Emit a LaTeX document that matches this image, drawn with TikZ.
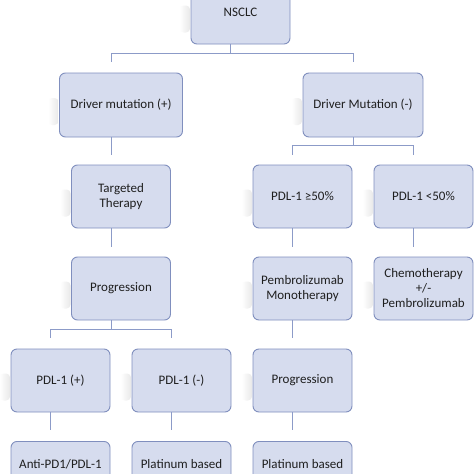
\documentclass[tikz,border=0pt]{standalone}
\usepackage{fontspec}
\setmainfont{Carlito}
\usetikzlibrary{positioning}

\begin{document}
\begin{tikzpicture}[x=1pt,y=-1pt,
  boite/.style={draw=bordBoite, fill=fondBoite, rounded corners=6pt,
    line width=0.9pt, minimum width=99pt, minimum height=63pt,
    align=center, text=black!88, inner sep=2pt,
    font=\fontsize{13}{15}\selectfont},
  large/.style={minimum width=123pt, minimum height=64pt},
  dernier/.style={anchor=north, inner ysep=0pt, text height=27pt, text depth=36pt},
  lien/.style={draw=couleurLien, line width=0.9pt}]

% Couleurs des boites et des liens
\definecolor{fondBoite}{RGB}{214,220,238}
\definecolor{bordBoite}{RGB}{128,143,190}
\definecolor{couleurLien}{RGB}{140,155,200}

% Cadre de l'image
\fill[white] (0,0) rectangle (474,474);
\useasboundingbox (0,0) rectangle (474,474);

% Boites
\node[boite] (nsclc) at (240.5,12.5) {NSCLC};
\node[boite,large] (drvpos) at (121,105) {Driver mutation (+)};
\node[boite,large,minimum width=120pt] (drvneg) at (363,105) {Driver Mutation (-)};

\node[boite] (target) at (121,196.5) {Targeted\\Therapy};
\node[boite] (pdlhaut) at (302.5,196.5) {PDL-1 ≥50\%};
\node[boite] (pdlbas) at (423.5,196.5) {PDL-1 <50\%};

\node[boite] (progA) at (121,288.5) {Progression};
\node[boite] (pembro) at (302.5,288.5) {Pembrolizumab\\Monotherapy};
\node[boite] (chimio) at (423.5,288.5) {Chemotherapy\\+/-\\Pembrolizumab};

\node[boite] (pdlplus) at (60.5,380.5) {PDL-1 (+)};
\node[boite] (pdlmoins) at (181.5,380.5) {PDL-1 (-)};
\node[boite] (progB) at (302.5,380.5) {Progression};

\node[boite,dernier] (antipd) at (60.5,441) {Anti-PD1/PDL-1};
\node[boite,dernier] (platA) at (181.5,441) {Platinum based};
\node[boite,dernier] (platB) at (302.5,441) {Platinum based};

% Ombres a gauche des boites
\foreach \n in {nsclc,drvpos,drvneg,target,pdlhaut,pdlbas,progA,pembro,chimio,pdlplus,pdlmoins,progB}
  \shade[left color=white, right color=black!9, rounded corners=4pt]
    ([xshift=-11pt,yshift=7pt]\n.west) rectangle ([xshift=-0.5pt,yshift=-20pt]\n.west);

% Liens
\draw[lien] ([xshift=-10pt]nsclc.south) -- ++(0,9) coordinate (fourcheA);
\draw[lien] (fourcheA) -| ([xshift=-10pt,yshift=11pt]drvpos.north);
\draw[lien] (fourcheA) -| ([xshift=-10pt,yshift=11pt]drvneg.north);

\draw[lien] ([xshift=-10pt]drvpos.south) -- ([xshift=-10pt,yshift=10pt]target.north);
\draw[lien] ([xshift=-10pt]drvneg.south) -- ++(0,8) coordinate (fourcheB);
\draw[lien] (fourcheB) -| ([xshift=-10pt,yshift=10pt]pdlhaut.north);
\draw[lien] (fourcheB) -| ([xshift=-10pt,yshift=10pt]pdlbas.north);

\draw[lien] ([xshift=-10pt]target.south) -- ([xshift=-10pt,yshift=10pt]progA.north);
\draw[lien] ([xshift=-10pt]pdlhaut.south) -- ([xshift=-10pt,yshift=10pt]pembro.north);
\draw[lien] ([xshift=-10pt]pdlbas.south) -- ([xshift=-10pt,yshift=10pt]chimio.north);

\draw[lien] ([xshift=-10pt]progA.south) -- ++(0,9) coordinate (fourcheC);
\draw[lien] (fourcheC) -| ([xshift=-10pt,yshift=11pt]pdlplus.north);
\draw[lien] (fourcheC) -| ([xshift=-10pt,yshift=11pt]pdlmoins.north);
\draw[lien] ([xshift=-10pt]pembro.south) -- ([xshift=-10pt,yshift=11pt]progB.north);

\draw[lien] ([xshift=-10pt]pdlplus.south) -- ([xshift=-10pt,yshift=11pt]antipd.north);
\draw[lien] ([xshift=-10pt]pdlmoins.south) -- ([xshift=-10pt,yshift=11pt]platA.north);
\draw[lien] ([xshift=-10pt]progB.south) -- ([xshift=-10pt,yshift=11pt]platB.north);

\end{tikzpicture}
\end{document}
